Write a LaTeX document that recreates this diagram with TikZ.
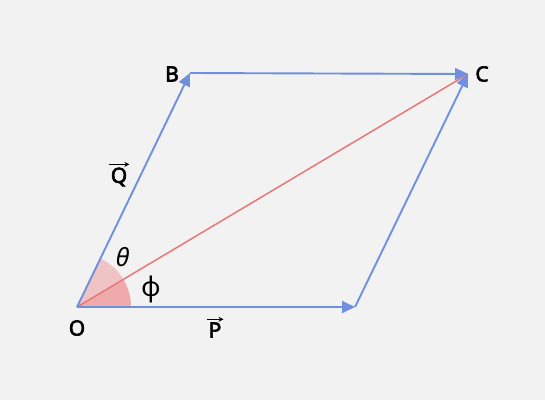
\documentclass[tikz,border=0pt]{standalone}
\usepackage{fontspec}
\setmainfont{Noto Sans}
\newfontfamily\lblfont{Noto Sans}[FakeBold=3]
\usetikzlibrary{arrows.meta}
\definecolor{bg}{HTML}{F2F2F2}
\definecolor{vblue}{HTML}{6F8FDF}
\definecolor{vred}{HTML}{E87878}
\definecolor{wedge}{HTML}{EE8E8E}
\tikzset{
  vec/.style={draw=vblue, line width=1.9pt, -{Triangle[length=13pt,width=12pt]}},
  res/.style={draw=vred, line width=1.5pt},
  lbl/.style={font=\lblfont\fontsize{21}{24}\selectfont, text=black, inner sep=1pt},
  ang/.style={font=\fontsize{25}{28}\selectfont, text=black, inner sep=1pt},
  sector/.style={fill=wedge, fill opacity=0.45, draw=none},
  tinyarrow/.style={draw=black, line width=1.1pt, -{Stealth[length=5pt,width=5pt]}}
}
\begin{document}
\begin{tikzpicture}[x=1pt,y=-1pt]
\fill[bg] (0,0) rectangle (545,400);
\useasboundingbox (0,0) rectangle (545,400);
\coordinate (O) at (77,307);
\coordinate (P) at (355,307);
\coordinate (B) at (190,73);
\coordinate (C) at (468,74);
% angle sectors
\fill[sector] (O) -- ++(54,0) arc[start angle=0, end angle=-64.2, radius=54] -- cycle;
\fill[sector] (O) -- ++(54,0) arc[start angle=0, end angle=-31, radius=54] -- cycle;
% resultant
\draw[res] (O) -- (C);
% vectors
\draw[vec] (O) -- (P);
\draw[vec] (O) -- (B);
\draw[vec] (B) -- (C);
\draw[vec] (P) -- (C);
% labels
\node[lbl] (lO) at (77,328) {O};
\node[lbl] (lB) at (172,74) {B};
\node[lbl] (lC) at (482,74) {C};
\node[lbl] (lP) at (215,330) {P};
\node[lbl] (lQ) at (119,177) {Q};
\draw[tinyarrow] ([xshift=-0.5pt,yshift=2pt]lP.north west) -- ([xshift=1pt,yshift=2pt]lP.north east);
\draw[tinyarrow] ([xshift=-0.5pt,yshift=2pt]lQ.north west) -- ([xshift=1pt,yshift=2pt]lQ.north east);
\node[ang] (th) at (122.5,257) {\itshape θ};
\node[ang, font=\fontsize{27}{30}\selectfont] (ph) at (151,289) {ϕ};
\end{tikzpicture}
\end{document}
